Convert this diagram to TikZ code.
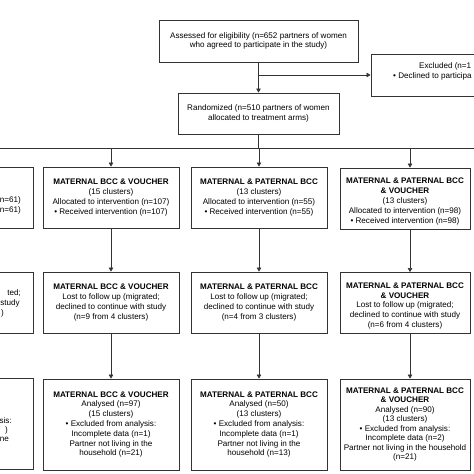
\documentclass[tikz,border=0pt]{standalone}
\usepackage{fontspec}
\setmainfont{Liberation Sans}
\usetikzlibrary{arrows.meta}
\newcommand{\dnstrut}{\rule{0pt}{11.5pt}}
\begin{document}
\begin{tikzpicture}[x=1pt,y=-1pt,
  box/.style={draw=black!80,line width=0.85pt,fill=white,align=center,inner sep=1pt,font=\fontsize{8.1}{9.8}\selectfont},
  frag/.style={inner sep=0pt,font=\fontsize{8.1}{9.8}\selectfont},
  arr/.style={draw=black!80,line width=0.65pt,-{Triangle[length=4pt,width=4.5pt]}},
  ln/.style={draw=black!80,line width=0.65pt},
  cA/.style={minimum width=136pt},
  cC/.style={minimum width=130pt},
  rB/.style={minimum height=61pt},
  rD/.style={minimum height=91pt}]
\useasboundingbox (0,0) rectangle (474,474);
\clip (0,0) rectangle (474,474);
% top part
\node[box,minimum width=199pt,minimum height=42pt] (top) at (258.5,41)
  {Assessed for eligibility (n=652 partners of women\\who agreed to participate in the study)};
\node[box,minimum width=161pt,minimum height=41pt] (rand) at (258.5,113.5)
  {Randomized (n=510 partners of women\\allocated to treatment arms)};
\node[box,minimum width=130pt,minimum height=42pt] (excl) at (436,75) {};
\node[frag,anchor=west] (exA) at (419,66) {Excluded (n=1};
\node[frag,anchor=west] (exB) at (393,76) {• Declined to participa};
% left partial column
\node[box,cA,rB] (l2) at (-35,197.5) {};
\node[box,cA,rB] (l3) at (-35,302.5) {};
\node[box,cA,rD] (l4) at (-35,424) {};
\node[frag,anchor=east] (f1) at (21,200) {n=61)};
\node[frag,anchor=east] (f2) at (21,210) {n=61)};
\node[frag,anchor=east] (f3) at (21,293) {ted;};
\node[frag,anchor=east] (f4) at (20,303) {study};
\node[frag,anchor=east] (f5) at (4,313) {)};
\node[frag,anchor=east] (f6) at (12,421) {sis:};
\node[frag,anchor=east] (f7) at (8,430) {)};
\node[frag,anchor=east] (f8) at (9,439) {ne};
% row 2
\node[box,cA,rB] (r2a) at (111,197.5)
  {\textbf{MATERNAL BCC \& VOUCHER}\\(15 clusters)\\Allocated to intervention (n=107)\\• Received intervention (n=107)};
\node[box,cA,rB] (r2b) at (259,197.5)
  {\textbf{MATERNAL \& PATERNAL BCC}\\(13 clusters)\\Allocated to intervention (n=55)\\• Received intervention (n=55)};
\node[box,cC,rB] (r2c) at (405,198.5)
  {\dnstrut\textbf{MATERNAL \& PATERNAL BCC}\\\textbf{\& VOUCHER}\\(13 clusters)\\Allocated to intervention (n=98)\\• Received intervention (n=98)};
% row 3
\node[box,cA,rB] (r3a) at (111,302.5)
  {\textbf{MATERNAL BCC \& VOUCHER}\\Lost to follow up (migrated;\\declined to continue with study\\(n=9 from 4 clusters)};
\node[box,cA,rB] (r3b) at (259,302.5)
  {\textbf{MATERNAL \& PATERNAL BCC}\\Lost to follow up (migrated;\\declined to continue with study\\(n=4 from 3 clusters)};
\node[box,cC,rB] (r3c) at (405,303)
  {\dnstrut\textbf{MATERNAL \& PATERNAL BCC}\\\textbf{\& VOUCHER}\\Lost to follow up (migrated;\\declined to continue with study\\(n=6 from 4 clusters)};
% row 4
\node[box,cA,rD] (r4a) at (111,424.5)
  {\textbf{MATERNAL BCC \& VOUCHER}\\Analysed (n=97)\\(15 clusters)\\• Excluded from analysis:\\Incomplete data (n=1)\\Partner not living in the\\household (n=21)};
\node[box,cA,rD] (r4b) at (259,424.5)
  {\textbf{MATERNAL \& PATERNAL BCC}\\Analysed (n=50)\\(13 clusters)\\• Excluded from analysis:\\Incomplete data (n=1)\\Partner not living in the\\household (n=13)};
\node[box,cC,rD,font=\fontsize{8.1}{9.5}\selectfont] (r4c) at (405,424.5)
  {\textbf{MATERNAL \& PATERNAL BCC}\\\textbf{\& VOUCHER}\\Analysed (n=90)\\(13 clusters)\\• Excluded from analysis:\\Incomplete data (n=2)\\Partner not living in the household\\(n=21)};
% connectors
\draw[arr] (top) -- (rand);
\coordinate (br) at (258.5,75);
\draw[arr] (br) -- (excl.west);
\coordinate (hl) at (258.5,148);
\coordinate (hlL) at (-20,148);
\coordinate (hlR) at (494,148);
\draw[ln] (rand.south) -- (hl);
\draw[ln] (hlL) -- (hlR);
\coordinate (ka) at (111,0);
\coordinate (kb) at (259,0);
\coordinate (kc) at (410,0);
\draw[arr] (ka |- hl) -- (r2a.north);
\draw[arr] (kb |- hl) -- (r2b.north);
\draw[arr] (kc |- hl) -- (kc |- r2c.north);
\draw[arr] (r2a.south) -- (r3a.north);
\draw[arr] (r2b.south) -- (r3b.north);
\draw[arr] (kc |- r2c.south) -- (kc |- r3c.north);
\draw[arr] (r3a.south) -- (r4a.north);
\draw[arr] (r3b.south) -- (r4b.north);
\draw[arr] (kc |- r3c.south) -- (kc |- r4c.north);
\end{tikzpicture}
\end{document}
